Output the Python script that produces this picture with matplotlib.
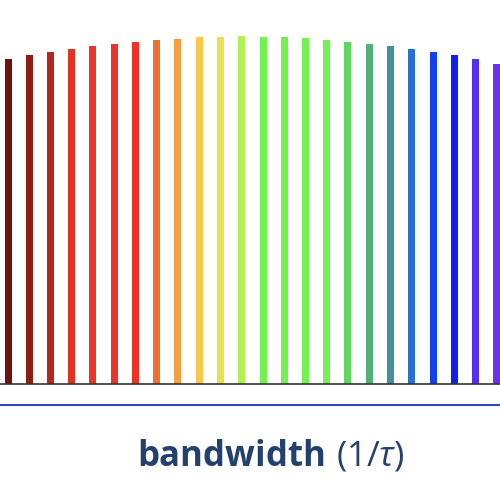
import numpy as np
import matplotlib.pyplot as plt

plt.rcParams['mathtext.fontset'] = 'custom'
plt.rcParams['mathtext.rm'] = 'Open Sans'
plt.rcParams['mathtext.bf'] = 'Open Sans:bold'
plt.rcParams['mathtext.it'] = 'Open Sans:italic'

# bar positions (pixel-ish units) and top heights
xpos = [8, 29, 50, 71, 92, 114, 135, 156, 177, 199, 220, 241,
        263, 284, 305, 326, 347, 369, 390, 411, 433, 454, 475, 496]
tops = [59, 55, 52, 49, 46, 44, 42, 40, 39, 37, 37, 36,
        37, 37, 38, 40, 42, 44, 46, 49, 52, 55, 59, 64]
colors = ['#6e1410', '#8e1c16', '#b02820', '#e03222', '#ee3426', '#ee3228',
          '#ee3228', '#f07030', '#f5a040', '#f8c848', '#e8e050', '#b0f050',
          '#72f250', '#72f250', '#72f250', '#72f250', '#60d860', '#50b078',
          '#4090a0', '#2870d0', '#1040f0', '#1020f0', '#5030f0', '#7030f0']

baseline = 384

fig = plt.figure(figsize=(5, 5), dpi=100)
ax = fig.add_axes([0, 0, 1, 1])
ax.set_xlim(0, 500)
ax.set_ylim(500, 0)
ax.axis('off')

heights = [baseline - t for t in tops]
ax.bar(xpos, heights, bottom=tops, width=7, color=colors)
ax.plot([0, 500], [baseline, baseline], color='#333333', lw=1.2)
ax.plot([0, 500], [405, 405], color='#2a4cc0', lw=1.5)

ax.text(271, 455, r'$\mathbf{bandwidth}$ $(1/\tau)$', color='#23406e',
        fontsize=25, ha='center', va='center')

fig.savefig('out.png')
